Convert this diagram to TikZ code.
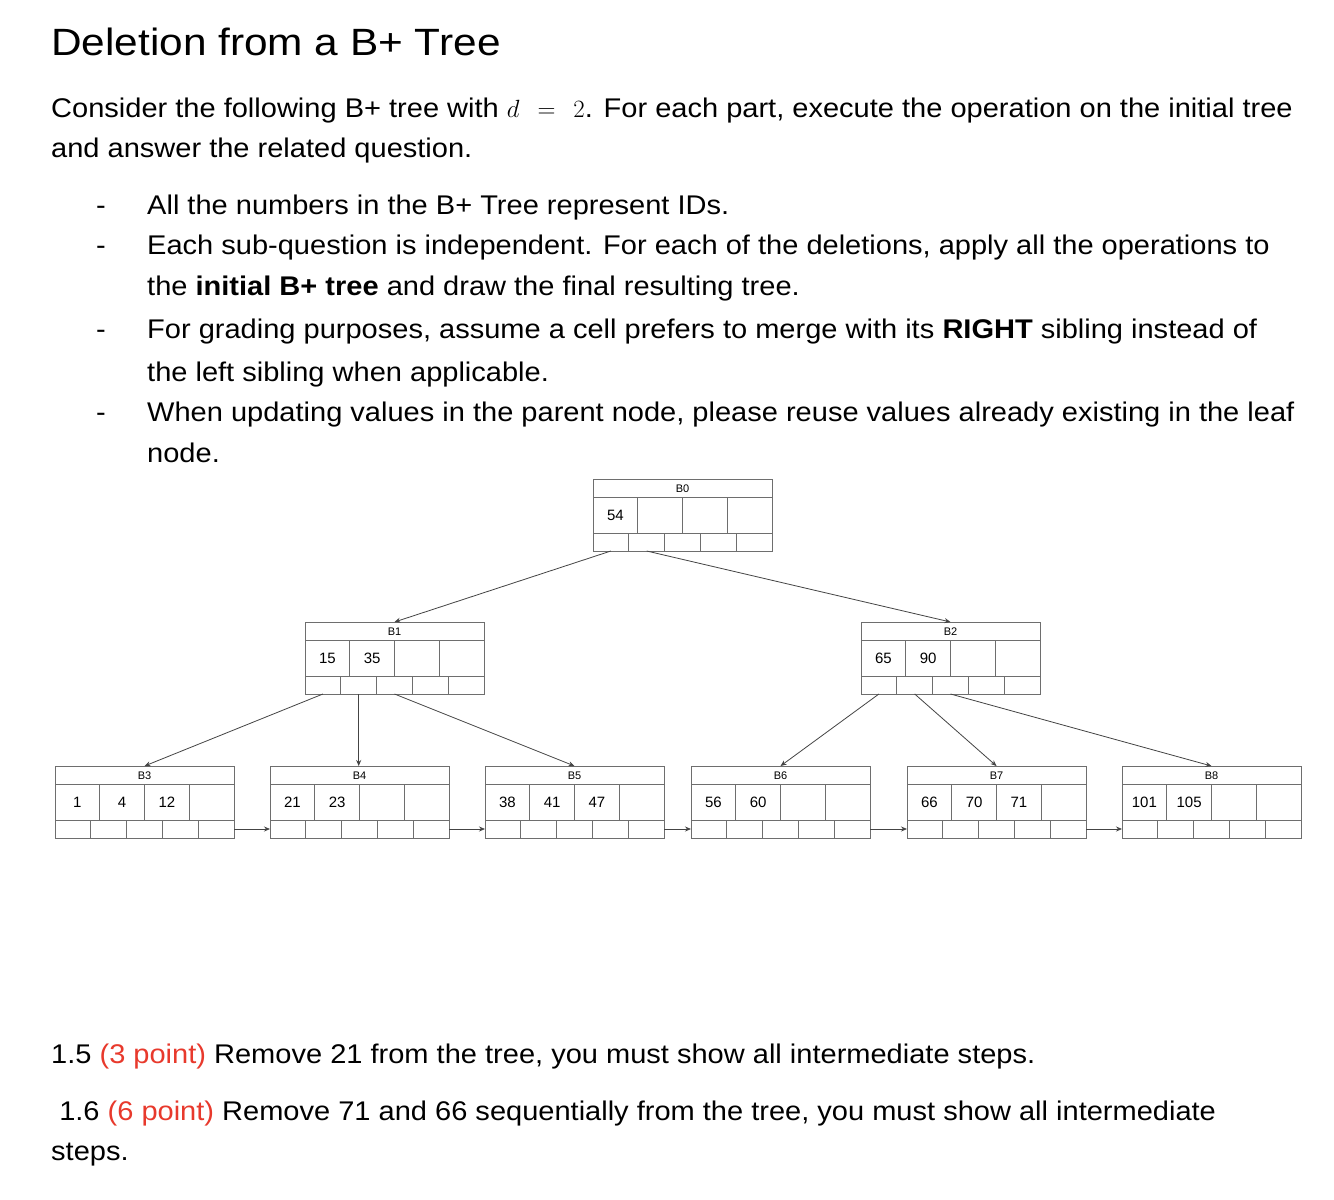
\documentclass[tikz,border=0pt]{standalone}
\usepackage{fontspec}
\setmainfont{Liberation Sans}[FakeStretch=1.075]
\newfontfamily\titlefont{Liberation Sans}[FakeStretch=1.115]
\newfontfamily\smallfont{Liberation Sans}
\usetikzlibrary{arrows.meta}
\definecolor{boxc}{HTML}{6E6E6E}
\definecolor{arrc}{HTML}{444444}
\definecolor{ptred}{HTML}{E8392C}
\newcommand\bpt[8]{%
  \node[bbox, anchor=north west] (#1) at (#2,#3) {};
  \draw[bline] (#2,#3+18) -- (#2+179,#3+18);
  \draw[bline] (#2,#3+54) -- (#2+179,#3+54);
  \foreach \i in {1,2,3} {\draw[bline] (#2+44.75*\i,#3+18) -- (#2+44.75*\i,#3+54);}
  \foreach \i in {1,2,3,4} {\draw[bline] (#2+35.8*\i,#3+54) -- (#2+35.8*\i,#3+72);}
  \node[lbl] (#1lab) at (#2+89.5,#3+9.5) {#4};
  \node[key] (#1k1) at (#2+22.4,#3+36) {#5};
  \node[key] (#1k2) at (#2+67.1,#3+36) {#6};
  \node[key] (#1k3) at (#2+111.9,#3+36) {#7};
  \node[key] (#1k4) at (#2+156.6,#3+36) {#8};
  \coordinate (#1p1) at (#2+17.9,#3+72);
  \coordinate (#1p2) at (#2+53.7,#3+72);
  \coordinate (#1p3) at (#2+89.5,#3+72);
  \coordinate (#1in) at (#2,#3+63);
  \coordinate (#1out) at (#2+179,#3+63);
}
\begin{document}
\begin{tikzpicture}[x=1pt,y=-1pt,
  bline/.style={draw=boxc, line width=0.9pt},
  bbox/.style={draw=boxc, line width=0.9pt, minimum width=179pt, minimum height=72pt, inner sep=0pt, outer sep=0pt},
  lbl/.style={font=\smallfont\fontsize{11}{13}\selectfont, inner sep=0pt},
  key/.style={font=\smallfont\fontsize{15}{18}\selectfont, inner sep=0pt},
  txt/.style={anchor=base west, inner sep=0pt, font=\fontsize{27}{32}\selectfont},
  arr/.style={draw=arrc, line width=0.8pt, -{Stealth[length=6pt,width=5pt]}}]
\useasboundingbox (0,0) rectangle (1334,1200);
\fill[white] (0,0) rectangle (1334,1200);
% texts
\node[txt, font=\titlefont\fontsize{38}{44}\selectfont] (title) at (51,55) {Deletion from a B+ Tree};
\node[txt] (c1) at (51,117) {Consider the following B+ tree with $d\;\,=\;\,2$. For each part, execute the operation on the initial tree};
\node[txt] (c2) at (51,157) {and answer the related question.};
\node[txt] (d1) at (96,214) {-};
\node[txt] (b1) at (147,214) {All the numbers in the B+ Tree represent IDs.};
\node[txt] (d2) at (96,254) {-};
\node[txt] (b2) at (147,254) {Each sub-question is independent. For each of the deletions, apply all the operations to};
\node[txt] (b3) at (147,295) {the \textbf{initial B+ tree} and draw the final resulting tree.};
\node[txt] (d3) at (96,338) {-};
\node[txt] (b4) at (147,338) {For grading purposes, assume a cell prefers to merge with its \textbf{RIGHT} sibling instead of};
\node[txt] (b5) at (147,381) {the left sibling when applicable.};
\node[txt] (d4) at (96,421) {-};
\node[txt] (b6) at (147,421) {When updating values in the parent node, please reuse values already existing in the leaf};
\node[txt] (b7) at (147,462) {node.};
\node[txt] (q1) at (51,1063) {1.5 \textcolor{ptred}{(3 point)} Remove 21 from the tree, you must show all intermediate steps.};
\node[txt] (q2) at (51,1120) {\ 1.6 \textcolor{ptred}{(6 point)} Remove 71 and 66 sequentially from the tree, you must show all intermediate};
\node[txt] (q3) at (51,1160) {steps.};
% tree
\bpt{B0}{593}{479}{B0}{54}{}{}{}
\bpt{B1}{305}{622}{B1}{15}{35}{}{}
\bpt{B2}{861}{622}{B2}{65}{90}{}{}
\bpt{B3}{55}{766}{B3}{1}{4}{12}{}
\bpt{B4}{270}{766}{B4}{21}{23}{}{}
\bpt{B5}{485}{766}{B5}{38}{41}{47}{}
\bpt{B6}{691}{766}{B6}{56}{60}{}{}
\bpt{B7}{907}{766}{B7}{66}{70}{71}{}
\bpt{B8}{1122}{766}{B8}{101}{105}{}{}
\draw[arr] (B0p1) -- (B1.north);
\draw[arr] (B0p2) -- (B2.north);
\draw[arr] (B1p1) -- (B3.north);
\draw[arr] (B1p2) -- (B1p2 |- B4.north);
\draw[arr] (B1p3) -- (B5.north);
\draw[arr] (B2p1) -- (B6.north);
\draw[arr] (B2p2) -- (B7.north);
\draw[arr] (B2p3) -- (B8.north);
\draw[arr] (B3out) -- (B4in);
\draw[arr] (B4out) -- (B5in);
\draw[arr] (B5out) -- (B6in);
\draw[arr] (B6out) -- (B7in);
\draw[arr] (B7out) -- (B8in);
\end{tikzpicture}
\end{document}
